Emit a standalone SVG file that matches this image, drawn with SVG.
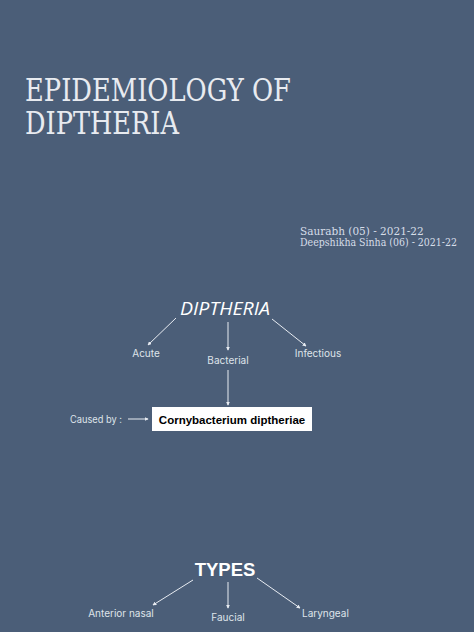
<svg xmlns="http://www.w3.org/2000/svg" width="474" height="632" viewBox="0 0 474 632">
<defs>
<style>
.title{font-family:"DejaVu Serif","Liberation Serif",serif;font-size:31px;fill:#e8ebf0}
.auth{font-family:"DejaVu Serif","Liberation Serif",serif;font-size:10.5px;fill:#d6dde8}
.lbl{font-family:"Inter","Liberation Sans",sans-serif;font-size:10px;fill:#dfe4ea}
.hd{font-family:"Open Sans","Liberation Sans",sans-serif;font-style:italic;font-size:19px;fill:#ffffff}
.types{font-family:"Liberation Sans",sans-serif;font-weight:bold;font-size:18.5px;fill:#ffffff}
.box{fill:#ffffff}
.boxt{font-family:"Liberation Sans",sans-serif;font-weight:bold;font-size:11.5px;fill:#000000}
.ln{stroke:#e8ecf2;stroke-width:1;fill:none}
</style>
<marker id="ah" viewBox="0 0 6 6" refX="5" refY="3" markerWidth="4" markerHeight="4" orient="auto">
<path d="M0,0 L6,3 L0,6 Z" fill="#e8ecf2"/>
</marker>
</defs>
<rect x="0" y="0" width="474" height="632" fill="#4b5e78"/>
<g id="title">
<text class="title" x="25" y="101" textLength="266" lengthAdjust="spacingAndGlyphs">EPIDEMIOLOGY OF</text>
<text class="title" x="25" y="134" textLength="154" lengthAdjust="spacingAndGlyphs">DIPTHERIA</text>
</g>
<g id="authors">
<text class="auth" x="300" y="235">Saurabh (05) - 2021-22</text>
<text class="auth" x="300" y="246" textLength="157" lengthAdjust="spacingAndGlyphs">Deepshikha Sinha (06) - 2021-22</text>
</g>
<g id="diptheria"><text class="hd" x="225" y="315" text-anchor="middle" textLength="90" lengthAdjust="spacingAndGlyphs">DIPTHERIA</text></g>
<g id="acute"><text class="lbl" x="146" y="357" text-anchor="middle">Acute</text></g>
<g id="bacterial"><text class="lbl" x="228" y="364" text-anchor="middle">Bacterial</text></g>
<g id="infectious"><text class="lbl" x="318" y="357" text-anchor="middle">Infectious</text></g>
<g id="causedby"><text class="lbl" x="70" y="423" textLength="52" lengthAdjust="spacingAndGlyphs">Caused by :</text></g>
<g id="organism">
<rect class="box" x="152" y="407" width="160" height="24"/>
<text class="boxt" x="232" y="423.5" text-anchor="middle">Cornybacterium diptheriae</text>
</g>
<g id="types"><text class="types" x="225" y="576" text-anchor="middle">TYPES</text></g>
<g id="anterior"><text class="lbl" x="121" y="617" text-anchor="middle">Anterior nasal</text></g>
<g id="faucial"><text class="lbl" x="228" y="621" text-anchor="middle">Faucial</text></g>
<g id="laryngeal"><text class="lbl" x="302" y="617">Laryngeal</text></g>
<g id="connectors">
<line class="ln" x1="176" y1="318" x2="148" y2="345" marker-end="url(#ah)"/>
<line class="ln" x1="228" y1="322" x2="228" y2="350" marker-end="url(#ah)"/>
<line class="ln" x1="272" y1="319" x2="306" y2="346" marker-end="url(#ah)"/>
<line class="ln" x1="228" y1="370" x2="228" y2="405" marker-end="url(#ah)"/>
<line class="ln" x1="128" y1="419" x2="148" y2="419" marker-end="url(#ah)"/>
<line class="ln" x1="193" y1="580" x2="153" y2="605" marker-end="url(#ah)"/>
<line class="ln" x1="228" y1="582" x2="228" y2="608" marker-end="url(#ah)"/>
<line class="ln" x1="257" y1="578" x2="300" y2="608" marker-end="url(#ah)"/>
</g>
</svg>
